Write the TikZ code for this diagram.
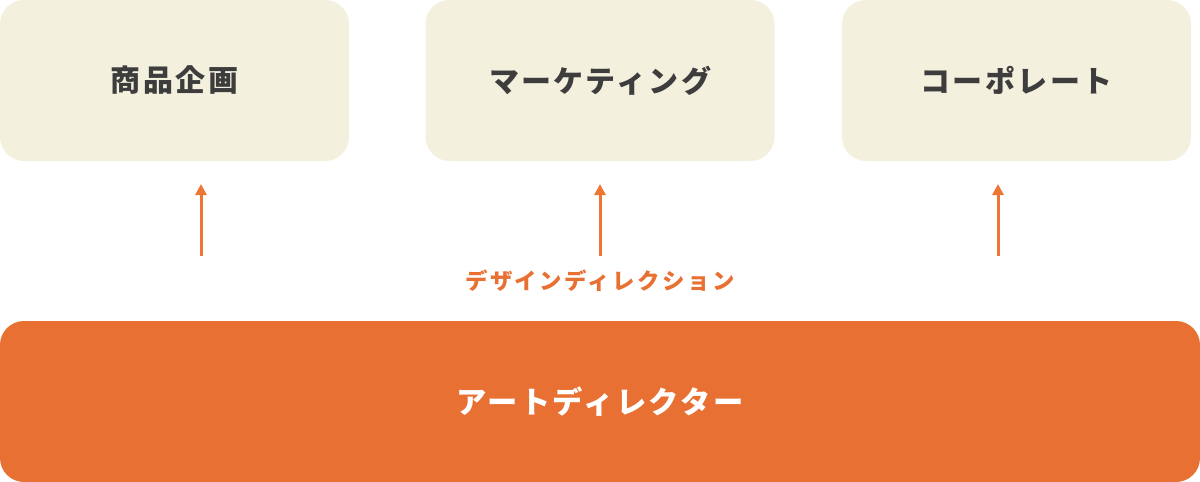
\documentclass[tikz,border=0pt]{standalone}
\usepackage{fontspec}
\usetikzlibrary{arrows.meta}
\newfontfamily\jpbig[LetterSpace=8]{Noto Sans CJK JP}
\newfontfamily\jplabel[LetterSpace=11]{Noto Sans CJK JP}
\definecolor{beige}{RGB}{243,240,222}
\definecolor{accent}{RGB}{232,112,51}
\definecolor{arrowc}{RGB}{238,118,52}
\definecolor{ink}{RGB}{61,61,61}
\tikzset{
  topbox/.style={fill=beige, rounded corners=24pt, minimum width=349pt, minimum height=161pt,
    inner sep=0pt, font=\jpbig\bfseries\fontsize{30pt}{30pt}\selectfont, text=ink},
  basebox/.style={fill=accent, rounded corners=24pt, minimum width=1200pt, minimum height=161pt,
    inner sep=0pt, font=\jpbig\bfseries\fontsize{30.3pt}{30pt}\selectfont, text=white},
  uparrow/.style={draw=arrowc, line width=3pt, -{Triangle[width=11pt,length=11pt]}},
  tag/.style={font=\jplabel\bfseries\fontsize{22.4pt}{22pt}\selectfont, text=accent, inner sep=0pt}
}
\begin{document}
\begin{tikzpicture}[x=1pt,y=-1pt]
\useasboundingbox (0,0) rectangle (1200,482);
\node[topbox] (plan) at (174.5,80.5) {商品企画};
\node[topbox] (mkt) at (600,80.5) {マーケティング};
\node[topbox] (corp) at (1016.5,80.5) {コーポレート};
\node[basebox] (ad) at (600,401.5) {アートディレクター};
\node[tag] (dd) at (600,281) {デザインディレクション};
\coordinate (s1) at (201,256);
\coordinate (e1) at (201,184);
\coordinate (s2) at (600,256);
\coordinate (e2) at (600,184);
\coordinate (s3) at (998,256);
\coordinate (e3) at (998,184);
\draw[uparrow] (s1) -- (e1);
\draw[uparrow] (s2) -- (e2);
\draw[uparrow] (s3) -- (e3);
\end{tikzpicture}
\end{document}
